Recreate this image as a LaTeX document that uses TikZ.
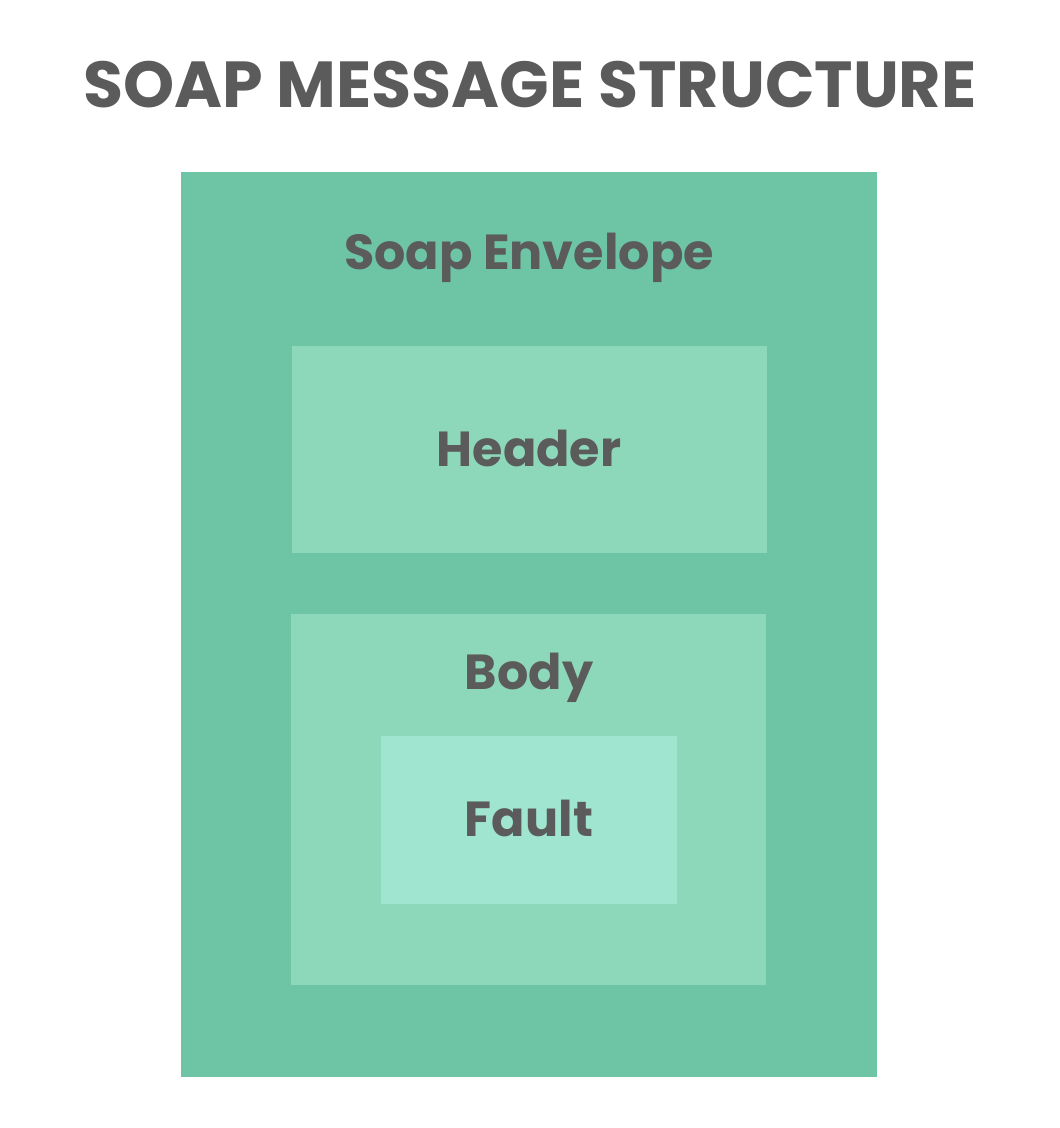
\documentclass[tikz,border=0pt]{standalone}
\usepackage{fontspec}
\setmainfont{Poppins}
\definecolor{envgreen}{HTML}{6DC5A6}
\definecolor{partgreen}{HTML}{8DD7BA}
\definecolor{faultgreen}{HTML}{A0E5D0}
\definecolor{textgray}{HTML}{5B5B5B}
\begin{document}
\begin{tikzpicture}[x=0.01cm, y=-0.01cm,
    label/.style={text=textgray, font=\bfseries\fontsize{14}{16}\selectfont, anchor=center}]
        \useasboundingbox (0,0) rectangle (1059,1128);
        % title
        \node[text=textgray, font=\bfseries\fontsize{18.5}{20}\selectfont] (title) at (530,85) {SOAP MESSAGE STRUCTURE};

        % boxes
        \fill[envgreen] (181,172) rectangle (877,1077);
        \fill[partgreen] (292,346) rectangle (767,553);
        \fill[partgreen] (291,614) rectangle (766,985);
        \fill[faultgreen] (381,736) rectangle (677,904);

        % labels
        \node[label] (envelope) at (529,258) {Soap Envelope};
        \node[label] (header) at (529,448) {Header};
        \node[label] (body) at (529,678) {Body};
        \node[label] (fault) at (529,818) {Fault};
    \end{tikzpicture}
\end{document}
